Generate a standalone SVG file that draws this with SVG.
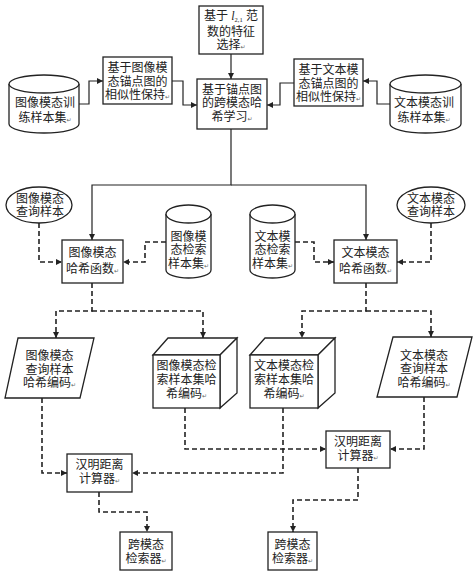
<svg xmlns="http://www.w3.org/2000/svg" width="474" height="576" viewBox="0 0 474 576">
<defs>
<style>
.bx{fill:#fff;stroke:#222;stroke-width:1.3}
.t{font-family:"Liberation Sans","Noto Sans CJK SC",sans-serif;font-size:12px;fill:#222;text-anchor:middle}
.r{font-family:"DejaVu Sans",sans-serif;font-size:6px;fill:#666}
.s{fill:none;stroke:#222;stroke-width:1.2}
.d{fill:none;stroke:#222;stroke-width:1.6;stroke-dasharray:5 3}
</style>
<marker id="a" viewBox="0 0 10 10" refX="10" refY="5" markerWidth="6" markerHeight="6" markerUnits="userSpaceOnUse" orient="auto">
<path d="M0,0 L10,5 L0,10 z" fill="#222"/>
</marker>
</defs>
<rect width="474" height="576" fill="#fff"/>

<g id="connectors">
<path class="s" d="M231,54 V79" marker-end="url(#a)"/>
<path class="s" d="M79,104 H89 V81 H103" marker-end="url(#a)"/>
<path class="s" d="M172,81 H183 V105 H197" marker-end="url(#a)"/>
<path class="s" d="M390,104 H377 V81 H363" marker-end="url(#a)"/>
<path class="s" d="M294,83 H280 V105 H267" marker-end="url(#a)"/>
<path class="s" d="M231,129 V185 H92 V240" marker-end="url(#a)"/>
<path class="s" d="M231,185 H366 V240" marker-end="url(#a)"/>
<path class="d" d="M39,223 V262 H62" marker-end="url(#a)"/>
<path class="d" d="M166,242 H145 V262 H123" marker-end="url(#a)"/>
<path class="d" d="M431,223 V262 H397" marker-end="url(#a)"/>
<path class="d" d="M295,242 H314 V262 H334" marker-end="url(#a)"/>
<path class="d" d="M92,283 V311 H56 V338" marker-end="url(#a)"/>
<path class="d" d="M92,311 H203 V338" marker-end="url(#a)"/>
<path class="d" d="M366,283 V311 H302 V338" marker-end="url(#a)"/>
<path class="d" d="M366,311 H431 V337" marker-end="url(#a)"/>
<path class="d" d="M185,408 V449 H326" marker-end="url(#a)"/>
<path class="d" d="M283,408 V473 H132" marker-end="url(#a)"/>
<path class="d" d="M424,397 V449 H390" marker-end="url(#a)"/>
<path class="d" d="M42,398 V473 H67" marker-end="url(#a)"/>
<path class="d" d="M99,492 V512 H147 V532" marker-end="url(#a)"/>
<path class="d" d="M358,468 V500 H293 V532" marker-end="url(#a)"/>
</g>

<g id="feature-selection">
<rect class="bx" x="199" y="6" width="64" height="48"/>
<text class="t" x="231" y="20">基于 <tspan font-family="Liberation Serif,serif" font-style="italic">l</tspan><tspan font-family="Liberation Serif,serif" font-size="6.5" dy="2">2,1</tspan><tspan dy="-2"> 范</tspan></text>
<text class="t" x="231" y="35.5">数的特征</text>
<text class="t" x="231" y="49">选择<tspan class="r">↵</tspan></text>
</g>

<g id="hash-learning">
<rect class="bx" x="197" y="79" width="70" height="50"/>
<text class="t" x="232" y="93.5">基于锚点图</text>
<text class="t" x="232" y="107">的跨模态哈</text>
<text class="t" x="232" y="120.5">希学习<tspan class="r">↵</tspan></text>
</g>

<g id="img-similarity">
<rect class="bx" x="103" y="57" width="69" height="47"/>
<text class="t" x="137.5" y="72">基于图像模</text>
<text class="t" x="137.5" y="85.5">态锚点图的</text>
<text class="t" x="137.5" y="99">相似性保持<tspan class="r">↵</tspan></text>
</g>

<g id="txt-similarity">
<rect class="bx" x="294" y="59" width="69" height="47"/>
<text class="t" x="328.5" y="74">基于文本模</text>
<text class="t" x="328.5" y="87.5">态锚点图的</text>
<text class="t" x="328.5" y="101">相似性保持<tspan class="r">↵</tspan></text>
</g>

<g id="img-train-set">
<path class="bx" d="M9,84 A35,9 0 0 1 79,84 V124 A35,9 0 0 1 9,124 Z"/>
<path class="bx" fill="none" d="M9,84 A35,9 0 0 0 79,84"/>
<text class="t" font-size="12.5" x="45" y="106.5">图像模态训</text>
<text class="t" font-size="12.5" x="45" y="121.5">练样本集<tspan class="r">↵</tspan></text>
</g>

<g id="txt-train-set">
<path class="bx" d="M390,84 A35.5,9 0 0 1 461,84 V124 A35.5,9 0 0 1 390,124 Z"/>
<path class="bx" fill="none" d="M390,84 A35.5,9 0 0 0 461,84"/>
<text class="t" font-size="12.5" x="424" y="106.5">文本模态训</text>
<text class="t" font-size="12.5" x="424" y="121.5">练样本集<tspan class="r">↵</tspan></text>
</g>

<g id="img-query">
<ellipse class="bx" cx="39" cy="205" rx="33" ry="18"/>
<text class="t" font-size="12.5" x="40" y="202.5">图像模态</text>
<text class="t" font-size="12.5" x="40" y="216">查询样本</text>
</g>

<g id="txt-query">
<ellipse class="bx" cx="431" cy="205" rx="34" ry="18"/>
<text class="t" font-size="12.5" x="431" y="202.5">文本模态</text>
<text class="t" font-size="12.5" x="431" y="216">查询样本</text>
</g>

<g id="img-hash-func">
<rect class="bx" x="62" y="240" width="61" height="43"/>
<text class="t" x="92.5" y="257">图像模态</text>
<text class="t" x="92.5" y="273">哈希函数<tspan class="r">↵</tspan></text>
</g>

<g id="txt-hash-func">
<rect class="bx" x="334" y="240" width="63" height="43"/>
<text class="t" x="365.5" y="257">文本模态</text>
<text class="t" x="365.5" y="273">哈希函数<tspan class="r">↵</tspan></text>
</g>

<g id="img-retrieval-set">
<path class="bx" d="M166,214 A22.5,9 0 0 1 211,214 V270 A22.5,8 0 0 1 166,270 Z"/>
<path class="bx" fill="none" d="M166,214 A22.5,9 0 0 0 211,214"/>
<text class="t" x="188.5" y="240.5">图像模</text>
<text class="t" x="188.5" y="254">态检索</text>
<text class="t" x="188.5" y="267.5">样本集<tspan class="r">↵</tspan></text>
</g>

<g id="txt-retrieval-set">
<path class="bx" d="M250,214 A22.5,9 0 0 1 295,214 V270 A22.5,8 0 0 1 250,270 Z"/>
<path class="bx" fill="none" d="M250,214 A22.5,9 0 0 0 295,214"/>
<text class="t" x="272.5" y="240.5">文本模</text>
<text class="t" x="272.5" y="254">态检索</text>
<text class="t" x="272.5" y="267.5">样本集<tspan class="r">↵</tspan></text>
</g>

<g id="img-query-code">
<polygon class="bx" points="18,338 94,338 80,398 5,398"/>
<text class="t" x="49.5" y="360">图像模态</text>
<text class="t" x="49.5" y="373.5">查询样本</text>
<text class="t" x="49.5" y="387">哈希编码<tspan class="r">↵</tspan></text>
</g>

<g id="txt-query-code">
<polygon class="bx" points="393,337 472,337 457,397 377,397"/>
<text class="t" x="424" y="359.5">文本模态</text>
<text class="t" x="424" y="373">查询样本</text>
<text class="t" x="424" y="386.5">哈希编码<tspan class="r">↵</tspan></text>
</g>

<g id="img-set-code">
<polygon class="bx" points="153,355 168,338 237,338 220,355"/>
<polygon class="bx" points="220,355 237,338 237,393 220,408"/>
<rect class="bx" x="153" y="355" width="67" height="53"/>
<text class="t" x="186.5" y="369.5">图像模态检</text>
<text class="t" x="186.5" y="383.5">索样本集哈</text>
<text class="t" x="186.5" y="397.5">希编码<tspan class="r">↵</tspan></text>
</g>

<g id="txt-set-code">
<polygon class="bx" points="250,355 265,338 335,338 318,355"/>
<polygon class="bx" points="318,355 335,338 335,393 318,408"/>
<rect class="bx" x="250" y="355" width="68" height="53"/>
<text class="t" x="284" y="369.5">文本模态检</text>
<text class="t" x="284" y="383.5">索样本集哈</text>
<text class="t" x="284" y="397.5">希编码<tspan class="r">↵</tspan></text>
</g>

<g id="hamming-right">
<rect class="bx" x="326" y="431" width="64" height="37"/>
<text class="t" x="358" y="446">汉明距离</text>
<text class="t" x="358" y="460">计算器<tspan class="r">↵</tspan></text>
</g>

<g id="hamming-left">
<rect class="bx" x="67" y="454" width="65" height="38"/>
<text class="t" x="99.5" y="469">汉明距离</text>
<text class="t" x="99.5" y="483">计算器<tspan class="r">↵</tspan></text>
</g>

<g id="retriever-left">
<rect class="bx" x="120" y="532" width="52" height="38"/>
<text class="t" x="146" y="549">跨模态</text>
<text class="t" x="146" y="562.5">检索器<tspan class="r">↵</tspan></text>
</g>

<g id="retriever-right">
<rect class="bx" x="268" y="532" width="49" height="38"/>
<text class="t" x="292.5" y="549">跨模态</text>
<text class="t" x="292.5" y="562.5">检索器<tspan class="r">↵</tspan></text>
</g>
</svg>
